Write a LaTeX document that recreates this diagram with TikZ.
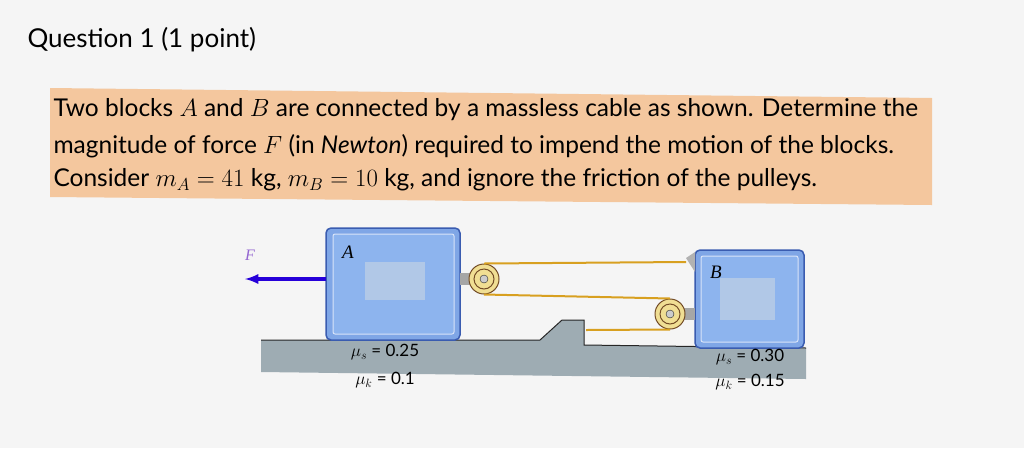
\documentclass[tikz,border=0pt]{standalone}
\usepackage{fontspec}
\setmainfont{Lato}
\newfontfamily\serifit{Liberation Serif}
\usepackage{amsmath}
\definecolor{blkfill}{HTML}{7FA6E6}
\definecolor{blkline}{HTML}{3A5CB0}
\definecolor{blkin}{HTML}{8DB4EE}
\definecolor{peach}{HTML}{F4C79E}
\definecolor{gold}{HTML}{D8A020}
\begin{document}
\begin{tikzpicture}[x=1pt,y=-1pt,
  blk/.style={draw=blkline,line width=1.5pt,fill=blkfill,rounded corners=5pt},
  inner/.style={draw=white!70!blkfill,line width=1pt,fill=blkin,rounded corners=2pt},
  cable/.style={draw=gold,line width=2pt},
  pul/.style={circle,draw=brown!60!black,fill=yellow!50!brown!50,line width=1pt,minimum size=30pt,inner sep=0pt},
  lbl/.style={font=\fontsize{17}{19}\selectfont},
  txt/.style={anchor=west,font=\fontsize{24.5}{28}\selectfont}]
\useasboundingbox[fill=gray!8] (0,0) rectangle (1024,448);
\node[anchor=west,font=\fontsize{26}{30}\selectfont] (q) at (24,40) {Question 1 (1 point)};
\fill[peach] (50,88) -- (932,98) -- (932,205) -- (50,197) -- cycle;
\node[txt] (l1) at (50,110) {Two blocks $A$ and $B$ are connected by a massless cable as shown. Determine the};
\node[txt] (l2) at (50,146) {magnitude of force $F$ (in \emph{Newton}) required to impend the motion of the blocks.};
\node[txt] (l3) at (50,180) {Consider $m_A=41$ kg, $m_B=10$ kg, and ignore the friction of the pulleys.};
% ground
\fill[gray!60!cyan!40!gray!80] (261,340) -- (540,340) -- (562,320) -- (584,320) -- (584,345) -- (806,348) -- (806,379) -- (261,372) -- cycle;
\draw[gray!30!black,line width=1pt] (261,340) -- (540,340) -- (562,320) -- (584,320) -- (584,345) -- (806,348);
% blocks
\draw[blk] (326,228) rectangle (460,340);
\draw[inner] (333,234) rectangle (454,334);
\fill[cyan!15!blkin!60!white] (365,262) rectangle (425,300);
\draw[blk] (695,250) rectangle (804,348);
\draw[inner] (701,256) rectangle (798,342);
\fill[cyan!15!blkin!60!white] (720,278) rectangle (775,320);
\node[font=\serifit\itshape\fontsize{19}{21}\selectfont] (A) at (348,252) {A};
\node[font=\serifit\itshape\fontsize{19}{21}\selectfont] (B) at (716,272) {B};
% brackets
\fill[gray!70] (460,273) rectangle (484,285);
\fill[gray!70] (670,308) rectangle (695,320);
% cables
\coordinate (bump) at (586,330);
\fill[gray!60] (686,258) -- (695,252) -- (695,272) -- cycle;
\node[pul] (p1) at (484,279) {};
\node[pul] (p2) at (670,314) {};
\draw[cable] (p1.north) -- (686,262);
\draw[cable] (p1.south) -- (p2.north);
\draw[cable] (p2.south) -- (bump);
\node[pul,minimum size=20pt] at (p1) {};
\node[pul,minimum size=20pt] at (p2) {};
\node[circle,draw=gray!30!black,fill=gray!40,minimum size=8pt,inner sep=0pt] at (p1) {};
\node[circle,draw=gray!30!black,fill=gray!40,minimum size=8pt,inner sep=0pt] at (p2) {};
% force
\coordinate (Fs) at (326,279);
\coordinate (Fe) at (245,279);
\draw[blue!70!violet,line width=3.5pt,-latex] (Fs) -- (Fe);
\node[blue!40!violet!60,font=\serifit\itshape\fontsize{16}{18}\selectfont] (F) at (250,255) {F};
% labels
\node[lbl] (m1) at (385,352) {$\mu_s$ = 0.25};
\node[lbl] (m2) at (385,380) {$\mu_k$ = 0.1};
\node[lbl] (m3) at (750,357) {$\mu_s$ = 0.30};
\node[lbl] (m4) at (750,382) {$\mu_k$ = 0.15};
\end{tikzpicture}
\end{document}
